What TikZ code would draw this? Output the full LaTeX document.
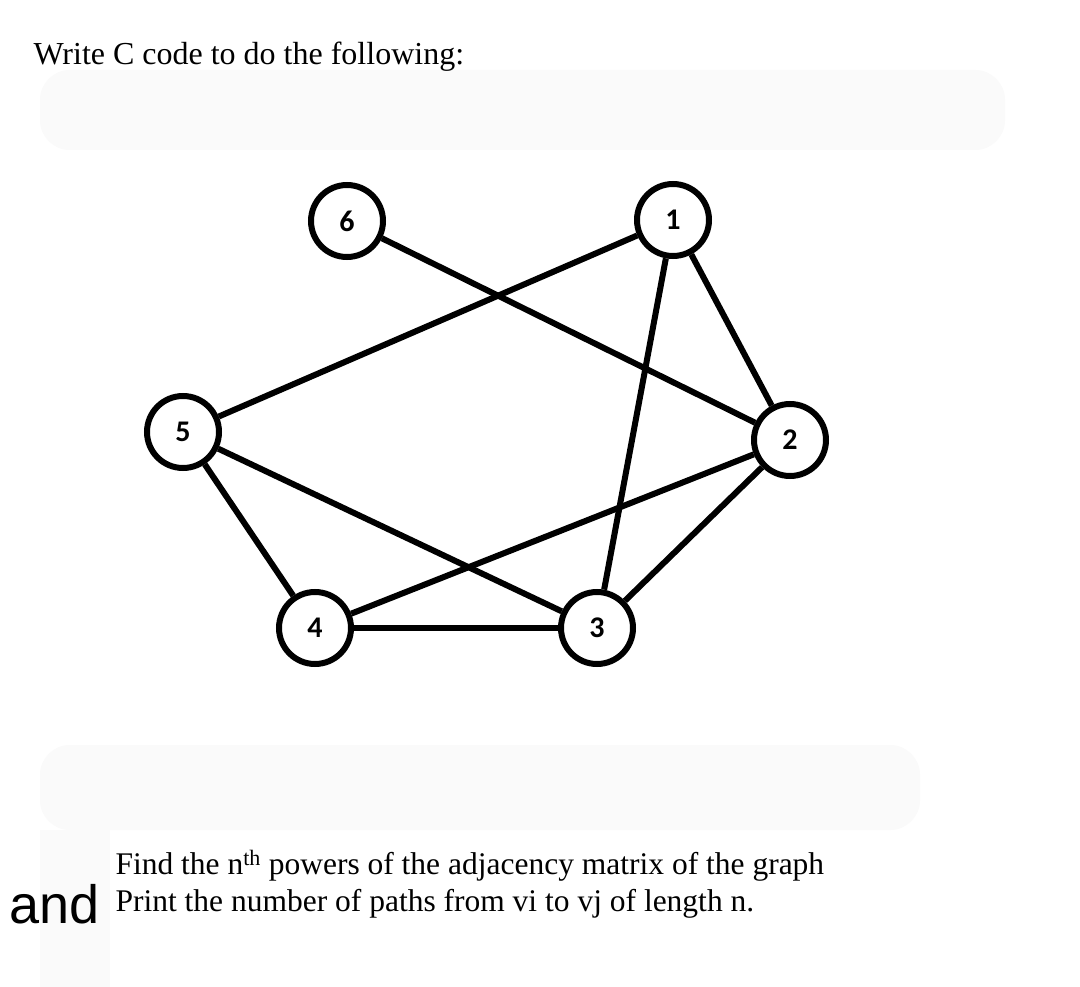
\documentclass[tikz,border=0pt]{standalone}
\usepackage{fontspec}
\setmainfont{Liberation Serif}
\newfontfamily\numfont{Carlito}
\newfontfamily\andfont{Liberation Sans}
\begin{document}
\begin{tikzpicture}[x=1pt,y=-1pt,
  vtx/.style={circle,draw=black,line width=6pt,fill=white,minimum size=72pt,inner sep=0pt,font=\numfont\bfseries\fontsize{30}{30}\selectfont},
  edge/.style={line width=6pt,black}]
\useasboundingbox (0,0) rectangle (1080,987);
\fill[white] (0,0) rectangle (1080,987);
\fill[black!2,rounded corners=30pt] (40,70) rectangle (1005,150);
\fill[black!2,rounded corners=30pt] (40,745) rectangle (920,830);
\fill[black!2] (40,830) rectangle (110,987);
\node[anchor=west,font=\fontsize{32}{34}\selectfont] (title) at (30,57) {Write C code to do the following:};
\node[vtx] (n6) at (347,221) {6};
\node[vtx] (n1) at (673,220) {1};
\node[vtx] (n5) at (183,432) {5};
\node[vtx] (n2) at (790,440) {2};
\node[vtx] (n4) at (315,628) {4};
\node[vtx] (n3) at (597,628) {3};
\draw[edge] (n6) -- (n2);
\draw[edge] (n1) -- (n5);
\draw[edge] (n1) -- (n2);
\draw[edge] (n1) -- (n3);
\draw[edge] (n5) -- (n3);
\draw[edge] (n5) -- (n4);
\draw[edge] (n4) -- (n3);
\draw[edge] (n4) -- (n2);
\draw[edge] (n3) -- (n2);
\node[anchor=west,font=\fontsize{31.5}{33}\selectfont] (l1) at (112,866) {Find the n\textsuperscript{th} powers of the adjacency matrix of the graph};
\node[anchor=west,font=\fontsize{31.5}{33}\selectfont] (l2) at (112,904) {Print the number of paths from vi to vj of length n.};
\node[anchor=base west,font=\andfont\fontsize{54}{54}\selectfont,inner sep=0pt] (and) at (9,923) {and};
\end{tikzpicture}
\end{document}
